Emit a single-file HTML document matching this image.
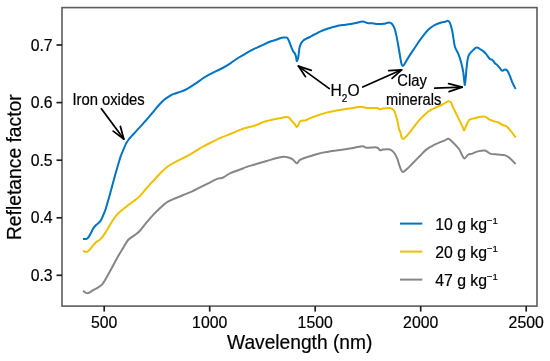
<!DOCTYPE html>
<html><head><meta charset="utf-8"><style>
html,body{margin:0;padding:0;background:#fff;}
body{width:550px;height:361px;overflow:hidden;}
svg{display:block;}
text{font-family:"Liberation Sans",Arial,Helvetica,sans-serif;fill:#000;stroke:#000;stroke-width:0.2px;}
</style></head><body>
<svg width="550" height="361" viewBox="0 0 550 361">
<rect x="0" y="0" width="550" height="361" fill="#fff"/>
<g fill="none" stroke-width="2" stroke-linejoin="round" stroke-linecap="butt">
<path stroke="#868686" d="M83.00,290.90 C83.75,291.28 85.83,293.32 87.50,293.20 C89.17,293.08 91.35,291.10 93.00,290.20 C94.65,289.30 95.87,288.78 97.40,287.80 C98.93,286.82 100.58,286.18 102.20,284.30 C103.82,282.42 105.32,279.57 107.10,276.50 C108.88,273.43 110.97,269.45 112.90,265.90 C114.83,262.35 116.93,258.28 118.70,255.20 C120.47,252.12 121.90,249.97 123.50,247.40 C125.10,244.83 126.38,241.88 128.30,239.80 C130.22,237.72 133.07,236.42 135.00,234.90 C136.93,233.38 137.97,232.78 139.90,230.70 C141.83,228.62 144.38,225.03 146.60,222.40 C148.82,219.77 150.98,217.25 153.20,214.90 C155.42,212.55 157.68,210.37 159.90,208.30 C162.12,206.23 164.28,204.03 166.50,202.50 C168.72,200.97 171.12,200.03 173.20,199.10 C175.28,198.17 177.32,197.58 179.00,196.90 C180.68,196.22 181.20,195.88 183.30,195.00 C185.40,194.12 188.82,192.87 191.60,191.60 C194.38,190.33 197.23,188.78 200.00,187.40 C202.77,186.02 205.43,184.68 208.20,183.30 C210.97,181.92 214.10,180.07 216.60,179.10 C219.10,178.13 220.97,178.47 223.20,177.50 C225.43,176.53 227.28,174.58 230.00,173.30 C232.72,172.02 236.70,170.87 239.50,169.80 C242.30,168.73 244.37,167.75 246.80,166.90 C249.23,166.05 251.67,165.43 254.10,164.70 C256.53,163.97 258.98,163.22 261.40,162.50 C263.82,161.78 266.18,161.12 268.60,160.40 C271.02,159.68 273.47,158.82 275.90,158.20 C278.33,157.58 281.27,156.87 283.20,156.70 C285.13,156.53 286.05,156.83 287.50,157.20 C288.95,157.57 290.68,158.18 291.90,158.90 C293.12,159.62 293.95,160.77 294.80,161.50 C295.65,162.23 296.27,163.48 297.00,163.30 C297.73,163.12 298.35,161.13 299.20,160.40 C300.05,159.67 301.13,159.35 302.10,158.90 C303.07,158.45 303.83,158.10 305.00,157.70 C306.17,157.30 306.90,157.17 309.10,156.50 C311.30,155.83 315.17,154.47 318.20,153.70 C321.23,152.93 324.27,152.43 327.30,151.90 C330.33,151.37 333.37,150.95 336.40,150.50 C339.43,150.05 342.48,149.67 345.50,149.20 C348.52,148.73 351.63,148.18 354.50,147.70 C357.37,147.22 360.87,146.35 362.70,146.30 C364.53,146.25 364.45,147.17 365.50,147.40 C366.55,147.63 367.80,147.70 369.00,147.70 C370.20,147.70 371.47,147.45 372.70,147.40 C373.93,147.35 375.48,147.28 376.40,147.40 C377.32,147.52 377.60,147.62 378.20,148.10 C378.80,148.58 379.25,150.07 380.00,150.30 C380.75,150.53 381.20,149.68 382.70,149.50 C384.20,149.32 387.48,149.03 389.00,149.20 C390.52,149.37 390.88,149.83 391.80,150.50 C392.72,151.17 393.58,151.85 394.50,153.20 C395.42,154.55 396.53,156.72 397.30,158.60 C398.07,160.48 398.50,162.68 399.10,164.50 C399.70,166.32 400.25,168.25 400.90,169.50 C401.55,170.75 401.95,172.12 403.00,172.00 C404.05,171.88 405.58,170.27 407.20,168.80 C408.82,167.33 410.63,165.28 412.70,163.20 C414.77,161.12 417.30,158.60 419.60,156.30 C421.90,154.00 424.18,151.25 426.50,149.40 C428.82,147.55 431.18,146.40 433.50,145.20 C435.82,144.00 438.48,143.02 440.40,142.20 C442.32,141.38 443.63,140.87 445.00,140.30 C446.37,139.73 447.27,138.43 448.60,138.80 C449.93,139.17 451.27,140.80 453.00,142.50 C454.73,144.20 457.50,146.92 459.00,149.00 C460.50,151.08 461.07,153.43 462.00,155.00 C462.93,156.57 463.55,158.48 464.60,158.40 C465.65,158.32 466.98,155.30 468.30,154.50 C469.62,153.70 470.93,154.12 472.50,153.60 C474.07,153.08 475.62,151.92 477.70,151.40 C479.78,150.88 482.93,150.13 485.00,150.50 C487.07,150.87 488.03,152.93 490.10,153.60 C492.17,154.27 494.97,154.25 497.40,154.50 C499.83,154.75 502.62,154.48 504.70,155.10 C506.78,155.72 508.07,156.72 509.90,158.20 C511.73,159.68 514.73,163.03 515.70,164.00"/>
<path stroke="#EFC000" d="M83.00,250.80 C83.52,251.00 85.12,252.07 86.10,252.00 C87.08,251.93 87.88,251.30 88.90,250.40 C89.92,249.50 91.10,247.88 92.20,246.60 C93.30,245.32 94.30,243.82 95.50,242.70 C96.70,241.58 98.20,240.92 99.40,239.90 C100.60,238.88 101.60,237.98 102.70,236.60 C103.80,235.22 104.90,233.35 106.00,231.60 C107.10,229.85 108.18,227.95 109.30,226.10 C110.42,224.25 111.67,222.10 112.70,220.50 C113.73,218.90 114.57,217.72 115.50,216.50 C116.43,215.28 117.10,214.38 118.30,213.20 C119.50,212.02 121.23,210.60 122.70,209.40 C124.17,208.20 125.62,207.12 127.10,206.00 C128.58,204.88 130.12,203.80 131.60,202.70 C133.08,201.60 134.72,200.42 136.00,199.40 C137.28,198.38 138.18,197.70 139.30,196.60 C140.42,195.50 141.75,193.90 142.70,192.80 C143.65,191.70 143.78,191.42 145.00,190.00 C146.22,188.58 148.52,185.93 150.00,184.30 C151.48,182.67 152.10,182.13 153.90,180.20 C155.70,178.27 158.50,174.98 160.80,172.70 C163.10,170.42 165.40,168.22 167.70,166.50 C170.00,164.78 172.28,163.67 174.60,162.40 C176.92,161.13 179.28,160.08 181.60,158.90 C183.92,157.72 186.20,156.58 188.50,155.30 C190.80,154.02 193.10,152.58 195.40,151.20 C197.70,149.82 199.87,148.37 202.30,147.00 C204.73,145.63 206.88,144.55 210.00,143.00 C213.12,141.45 217.33,139.32 221.00,137.70 C224.67,136.08 228.33,134.78 232.00,133.30 C235.67,131.82 239.17,130.10 243.00,128.80 C246.83,127.50 251.50,126.67 255.00,125.50 C258.50,124.33 261.00,122.80 264.00,121.80 C267.00,120.80 269.95,120.18 273.00,119.50 C276.05,118.82 280.15,118.13 282.30,117.70 C284.45,117.27 284.85,116.95 285.90,116.90 C286.95,116.85 287.68,116.80 288.60,117.40 C289.52,118.00 290.33,119.32 291.40,120.50 C292.47,121.68 294.10,123.42 295.00,124.50 C295.90,125.58 296.20,127.00 296.80,127.00 C297.40,127.00 297.98,125.47 298.60,124.50 C299.22,123.53 299.35,121.90 300.50,121.20 C301.65,120.50 304.07,120.73 305.50,120.30 C306.93,119.87 306.98,119.45 309.10,118.60 C311.22,117.75 315.17,116.23 318.20,115.20 C321.23,114.17 324.27,113.18 327.30,112.40 C330.33,111.62 333.37,111.07 336.40,110.50 C339.43,109.93 342.48,109.47 345.50,109.00 C348.52,108.53 351.78,108.07 354.50,107.70 C357.22,107.33 359.97,106.80 361.80,106.80 C363.63,106.80 363.68,107.48 365.50,107.70 C367.32,107.92 370.73,108.03 372.70,108.10 C374.67,108.17 376.08,107.87 377.30,108.10 C378.52,108.33 379.10,109.42 380.00,109.50 C380.90,109.58 381.20,108.83 382.70,108.60 C384.20,108.37 387.48,108.10 389.00,108.10 C390.52,108.10 390.88,108.05 391.80,108.60 C392.72,109.15 393.58,109.42 394.50,111.40 C395.42,113.38 396.53,117.48 397.30,120.50 C398.07,123.52 398.60,127.62 399.10,129.50 C399.60,131.38 399.92,130.62 400.30,131.80 C400.68,132.98 400.98,135.40 401.40,136.60 C401.82,137.80 402.12,138.90 402.80,139.00 C403.48,139.10 404.35,138.30 405.50,137.20 C406.65,136.10 408.30,134.12 409.70,132.40 C411.10,130.68 412.28,128.98 413.90,126.90 C415.52,124.82 417.57,121.98 419.40,119.90 C421.23,117.82 423.05,116.02 424.90,114.40 C426.75,112.78 428.65,111.35 430.50,110.20 C432.35,109.05 434.15,108.37 436.00,107.50 C437.85,106.63 439.98,105.82 441.60,105.00 C443.22,104.18 444.55,103.22 445.70,102.60 C446.85,101.98 447.58,101.30 448.50,101.30 C449.42,101.30 450.52,101.75 451.20,102.60 C451.88,103.45 451.72,104.43 452.60,106.40 C453.48,108.37 455.22,111.78 456.50,114.40 C457.78,117.02 459.22,119.87 460.30,122.10 C461.38,124.33 462.33,126.45 463.00,127.80 C463.67,129.15 463.72,130.67 464.30,130.20 C464.88,129.73 465.63,126.73 466.50,125.00 C467.37,123.27 468.15,120.92 469.50,119.80 C470.85,118.68 472.88,118.77 474.60,118.30 C476.32,117.83 478.07,117.28 479.80,117.00 C481.53,116.72 483.45,116.20 485.00,116.60 C486.55,117.00 487.55,118.60 489.10,119.40 C490.65,120.20 492.73,120.88 494.30,121.40 C495.87,121.92 497.12,121.90 498.50,122.50 C499.88,123.10 501.22,124.32 502.60,125.00 C503.98,125.68 505.42,125.57 506.80,126.60 C508.18,127.63 509.42,129.40 510.90,131.20 C512.38,133.00 514.90,136.37 515.70,137.40"/>
<path stroke="#0073C2" d="M83.00,239.10 C83.60,239.05 85.62,239.22 86.60,238.80 C87.58,238.38 88.15,237.62 88.90,236.60 C89.65,235.58 90.37,234.08 91.10,232.70 C91.83,231.32 92.47,229.58 93.30,228.30 C94.13,227.02 95.08,226.02 96.10,225.00 C97.12,223.98 98.48,223.22 99.40,222.20 C100.32,221.18 100.95,220.10 101.60,218.90 C102.25,217.70 102.63,216.62 103.30,215.00 C103.97,213.38 104.48,212.70 105.60,209.20 C106.72,205.70 108.27,200.20 110.00,194.00 C111.73,187.80 114.33,177.92 116.00,172.00 C117.67,166.08 119.13,161.33 120.00,158.50 C120.87,155.67 120.65,156.43 121.20,155.00 C121.75,153.57 122.53,151.72 123.30,149.90 C124.07,148.08 124.97,145.75 125.80,144.10 C126.63,142.45 127.33,141.32 128.30,140.00 C129.27,138.68 130.35,137.60 131.60,136.20 C132.85,134.80 134.42,133.12 135.80,131.60 C137.18,130.08 138.72,128.38 139.90,127.10 C141.08,125.82 141.83,125.08 142.90,123.90 C143.97,122.72 145.17,121.28 146.30,120.00 C147.43,118.72 148.33,117.82 149.70,116.20 C151.07,114.58 152.88,112.25 154.50,110.30 C156.12,108.35 157.78,106.27 159.40,104.50 C161.02,102.73 162.58,101.07 164.20,99.70 C165.82,98.33 167.48,97.27 169.10,96.30 C170.72,95.33 172.08,94.63 173.90,93.90 C175.72,93.17 178.15,92.55 180.00,91.90 C181.85,91.25 183.33,90.78 185.00,90.00 C186.67,89.22 188.20,88.30 190.00,87.20 C191.80,86.10 193.68,84.85 195.80,83.40 C197.92,81.95 200.40,80.00 202.70,78.50 C205.00,77.00 207.28,75.67 209.60,74.40 C211.92,73.13 214.28,72.05 216.60,70.90 C218.92,69.75 221.20,68.77 223.50,67.50 C225.80,66.23 228.10,64.80 230.40,63.30 C232.70,61.80 234.95,60.00 237.30,58.50 C239.65,57.00 242.43,55.52 244.50,54.30 C246.57,53.08 248.03,52.13 249.70,51.20 C251.37,50.27 252.88,49.48 254.50,48.70 C256.12,47.92 257.78,47.22 259.40,46.50 C261.02,45.78 262.58,45.15 264.20,44.40 C265.82,43.65 267.48,42.65 269.10,42.00 C270.72,41.35 272.28,41.03 273.90,40.50 C275.52,39.97 277.50,39.27 278.80,38.80 C280.10,38.33 280.58,37.90 281.70,37.70 C282.82,37.50 284.53,37.52 285.50,37.60 C286.47,37.68 286.85,37.47 287.50,38.20 C288.15,38.93 288.78,40.57 289.40,42.00 C290.02,43.43 290.58,45.27 291.20,46.80 C291.82,48.33 292.47,50.05 293.10,51.20 C293.73,52.35 294.48,52.67 295.00,53.70 C295.52,54.73 295.90,56.15 296.20,57.40 C296.50,58.65 296.45,61.25 296.80,61.20 C297.15,61.15 297.87,59.25 298.30,57.10 C298.73,54.95 298.93,50.60 299.40,48.30 C299.87,46.00 300.45,44.60 301.10,43.30 C301.75,42.00 302.38,41.30 303.30,40.50 C304.22,39.70 305.48,39.08 306.60,38.50 C307.72,37.92 308.88,37.58 310.00,37.00 C311.12,36.42 312.02,35.70 313.30,35.00 C314.58,34.30 316.05,33.58 317.70,32.80 C319.35,32.02 321.35,31.05 323.20,30.30 C325.05,29.55 326.60,28.98 328.80,28.30 C331.00,27.62 333.62,26.80 336.40,26.20 C339.18,25.60 342.48,25.18 345.50,24.70 C348.52,24.22 351.63,23.82 354.50,23.30 C357.37,22.78 360.57,21.67 362.70,21.60 C364.83,21.53 365.63,22.62 367.30,22.90 C368.97,23.18 370.88,23.10 372.70,23.30 C374.52,23.50 376.38,24.02 378.20,24.10 C380.02,24.18 381.78,24.05 383.60,23.80 C385.42,23.55 387.73,22.60 389.10,22.60 C390.47,22.60 390.90,22.83 391.80,23.80 C392.70,24.77 393.73,26.43 394.50,28.40 C395.27,30.37 395.82,33.00 396.40,35.60 C396.98,38.20 397.35,40.33 398.00,44.00 C398.65,47.67 399.70,54.23 400.30,57.60 C400.90,60.97 401.20,62.83 401.60,64.20 C402.00,65.57 402.30,65.67 402.70,65.80 C403.10,65.93 403.38,65.85 404.00,65.00 C404.62,64.15 405.37,62.43 406.40,60.70 C407.43,58.97 408.80,56.77 410.20,54.60 C411.60,52.43 413.27,49.98 414.80,47.70 C416.33,45.42 417.88,43.05 419.40,40.90 C420.92,38.75 422.38,36.70 423.90,34.80 C425.42,32.90 426.97,30.97 428.50,29.50 C430.03,28.03 431.58,26.95 433.10,26.00 C434.62,25.05 436.08,24.42 437.60,23.80 C439.12,23.18 440.92,22.63 442.20,22.30 C443.48,21.97 444.42,22.05 445.30,21.80 C446.18,21.55 446.75,20.67 447.50,20.80 C448.25,20.93 449.03,21.03 449.80,22.60 C450.57,24.17 451.47,27.40 452.10,30.20 C452.73,33.00 453.12,36.60 453.60,39.40 C454.08,42.20 454.22,44.58 455.00,47.00 C455.78,49.42 457.28,51.37 458.30,53.90 C459.32,56.43 460.28,59.20 461.10,62.20 C461.92,65.20 462.67,68.67 463.20,71.90 C463.73,75.13 464.03,79.42 464.30,81.60 C464.57,83.78 464.60,85.23 464.80,85.00 C465.00,84.77 465.20,83.08 465.50,80.20 C465.80,77.32 466.18,71.48 466.60,67.70 C467.02,63.92 467.42,59.92 468.00,57.50 C468.58,55.08 469.28,54.38 470.10,53.20 C470.92,52.02 471.98,51.30 472.90,50.40 C473.82,49.50 474.80,48.27 475.60,47.80 C476.40,47.33 477.00,47.40 477.70,47.60 C478.40,47.80 478.88,48.42 479.80,49.00 C480.72,49.58 482.17,50.28 483.20,51.10 C484.23,51.92 484.88,52.57 486.00,53.90 C487.12,55.23 488.83,58.10 489.90,59.10 C490.97,60.10 491.57,59.22 492.40,59.90 C493.23,60.58 494.07,62.32 494.90,63.20 C495.73,64.08 496.57,64.37 497.40,65.20 C498.23,66.03 499.07,67.28 499.90,68.20 C500.73,69.12 501.57,70.47 502.40,70.70 C503.23,70.93 504.08,69.60 504.90,69.60 C505.72,69.60 506.48,69.68 507.30,70.70 C508.12,71.72 508.97,73.77 509.80,75.70 C510.63,77.63 511.33,80.08 512.30,82.30 C513.27,84.52 515.05,87.88 515.60,89.00"/>
</g>
<rect x="62" y="7.6" width="475" height="298.5" fill="none" stroke="#5c5c5c" stroke-width="1.6"/>
<g stroke="#1e1e1e" stroke-width="1.7">
<line x1="104.2" y1="306.1" x2="104.2" y2="311.6"/>
<line x1="209.7" y1="306.1" x2="209.7" y2="311.6"/>
<line x1="315.2" y1="306.1" x2="315.2" y2="311.6"/>
<line x1="420.7" y1="306.1" x2="420.7" y2="311.6"/>
<line x1="526.2" y1="306.1" x2="526.2" y2="311.6"/>
<line x1="56.5" y1="45" x2="62" y2="45"/>
<line x1="56.5" y1="102.6" x2="62" y2="102.6"/>
<line x1="56.5" y1="160.2" x2="62" y2="160.2"/>
<line x1="56.5" y1="217.8" x2="62" y2="217.8"/>
<line x1="56.5" y1="275.3" x2="62" y2="275.3"/>
</g>
<g>
<text transform="translate(104.20,327.60) scale(1.0,1.0)" font-size="15.8" text-anchor="middle">500</text>
<text transform="translate(209.70,327.60) scale(1.0,1.0)" font-size="15.8" text-anchor="middle">1000</text>
<text transform="translate(315.20,327.60) scale(1.0,1.0)" font-size="15.8" text-anchor="middle">1500</text>
<text transform="translate(420.70,327.60) scale(1.0,1.0)" font-size="15.8" text-anchor="middle">2000</text>
<text transform="translate(526.20,327.60) scale(1.0,1.0)" font-size="15.8" text-anchor="middle">2500</text>
<text transform="translate(52.60,50.60) scale(1.0,1.0)" font-size="15.8" text-anchor="end">0.7</text>
<text transform="translate(52.60,108.20) scale(1.0,1.0)" font-size="15.8" text-anchor="end">0.6</text>
<text transform="translate(52.60,165.80) scale(1.0,1.0)" font-size="15.8" text-anchor="end">0.5</text>
<text transform="translate(52.60,223.40) scale(1.0,1.0)" font-size="15.8" text-anchor="end">0.4</text>
<text transform="translate(52.60,280.90) scale(1.0,1.0)" font-size="15.8" text-anchor="end">0.3</text>
</g>
<text transform="translate(299.7,349.2) scale(1,1.06)" text-anchor="middle" font-size="19.2">Wavelength (nm)</text>
<text transform="translate(20.8,167.2) rotate(-90)" text-anchor="middle" font-size="19.3">Refletance factor</text>
<!-- legend -->
<g stroke-width="2">
<line x1="400" y1="223.6" x2="422.3" y2="223.6" stroke="#0073C2"/>
<line x1="400" y1="251.6" x2="422.3" y2="251.6" stroke="#EFC000"/>
<line x1="400" y1="279.6" x2="422.3" y2="279.6" stroke="#868686"/>
</g>
<g font-size="15.8">
<text transform="translate(435.2,229.6) scale(1,1.04)">10 g kg<tspan font-size="9.6" dy="-5">&#8722;1</tspan></text>
<text transform="translate(435.2,257.6) scale(1,1.04)">20 g kg<tspan font-size="9.6" dy="-5">&#8722;1</tspan></text>
<text transform="translate(435.2,285.6) scale(1,1.04)">47 g kg<tspan font-size="9.6" dy="-5">&#8722;1</tspan></text>
</g>
<!-- annotations -->
<text transform="translate(72.4,104.5) scale(1,1.07)" font-size="14.8">Iron oxides</text>
<text transform="translate(330.6,95.5) scale(1,1.05)" font-size="15.6">H<tspan font-size="10" dy="5.9">2</tspan><tspan dy="-5.9">O</tspan></text>
<text transform="translate(397.35,86.1) scale(1,1.07)" font-size="14.8">Clay</text>
<text transform="translate(385.9,105) scale(1,1.09)" font-size="14.7">minerals</text>
<g fill="none" stroke="#000" stroke-width="1.75" stroke-linecap="round" stroke-linejoin="round">
<line x1="101.4" y1="108.7" x2="123.8" y2="139.1"/>
<polyline points="113.2,131.1 123.8,139.1 120.4,126.4"/>
<line x1="329.3" y1="88.6" x2="298.4" y2="66.1"/>
<polyline points="311.3,70.3 298.4,66.1 305.5,76.7"/>
<line x1="362.7" y1="87" x2="401.6" y2="69.8"/>
<polyline points="388.7,70.6 401.6,69.8 392.1,78.4"/>
<line x1="434.8" y1="88.2" x2="462.2" y2="87.2"/>
<polyline points="448.6,83.6 462.2,87.2 449.1,91.7"/>
</g>
</svg>
</body></html>
